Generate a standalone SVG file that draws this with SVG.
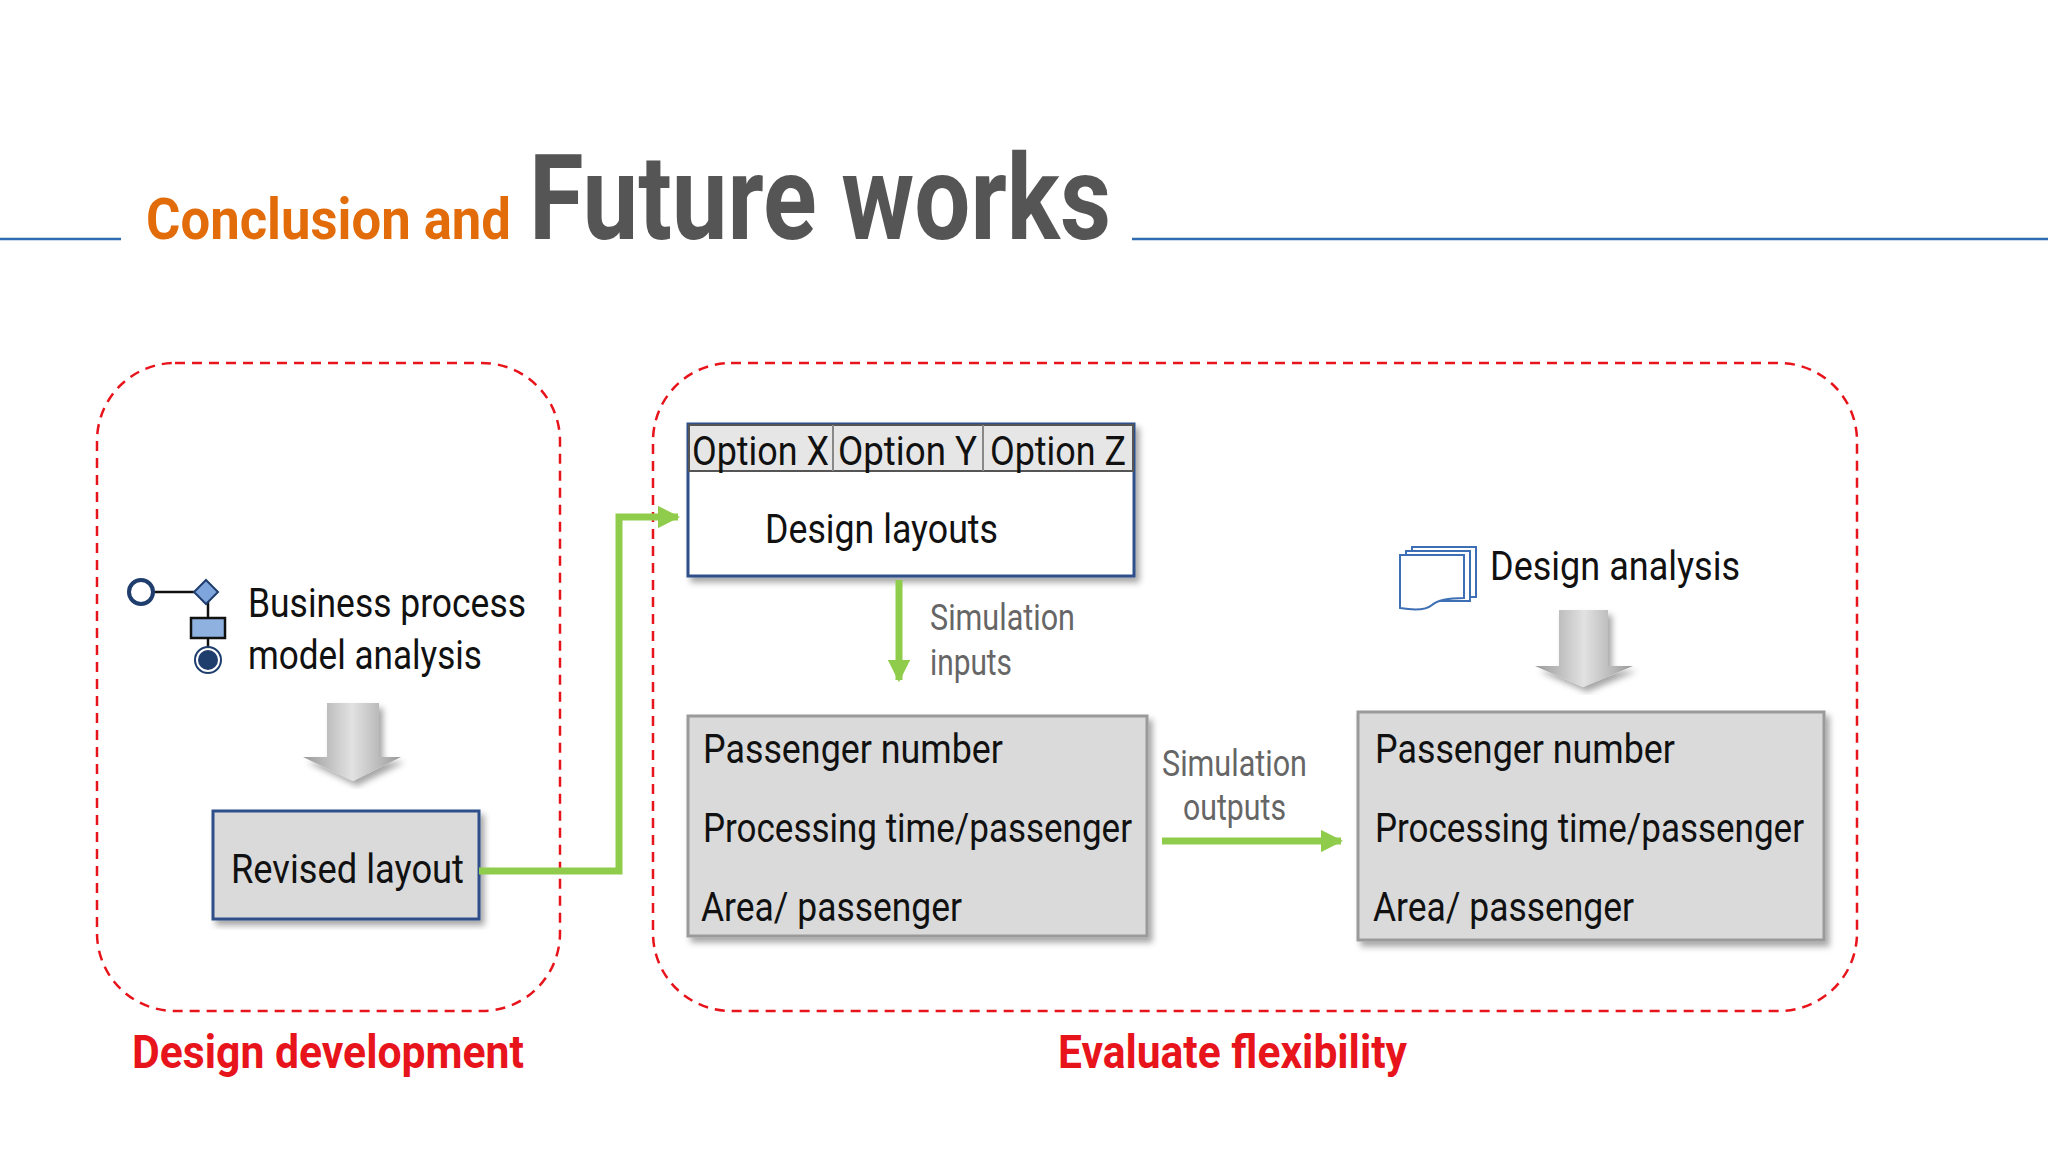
<svg xmlns="http://www.w3.org/2000/svg" width="2048" height="1159" viewBox="0 0 2048 1159">
<defs>
<style>
text{font-family:Roboto,"Liberation Sans",sans-serif;}
.t{font-size:40px;fill:#111;}
.s{font-size:36px;fill:#666;}
.red{font-size:46px;font-weight:bold;fill:#e8141c;}
.dash{fill:none;stroke:#e8141c;stroke-width:2.5;stroke-dasharray:10 7;}
.box{fill:#dadadb;stroke:#9a9a9a;stroke-width:3;}
.g{stroke:#8fcc4b;stroke-width:7;fill:none;}
</style>
<linearGradient id="ga" x1="0" y1="0" x2="1" y2="0">
<stop offset="0" stop-color="#9a9a9a"/><stop offset="0.5" stop-color="#e2e2e2"/><stop offset="1" stop-color="#9a9a9a"/>
</linearGradient>
<marker id="ah" viewBox="0 0 10 10" refX="9" refY="5" markerWidth="3.2" markerHeight="3.2" orient="auto"><path d="M0,0L10,5L0,10z" fill="#8fcc4b"/></marker>
<filter id="sh"><feDropShadow dx="4" dy="5" stdDeviation="3" flood-opacity="0.35"/></filter>
</defs>
<rect width="2048" height="1159" fill="#fff"/>
<g id="title">
<line x1="0" y1="239" x2="121" y2="239" stroke="#2e6bb0" stroke-width="2.5"/>
<line x1="1132" y1="239" x2="2048" y2="239" stroke="#2e6bb0" stroke-width="2.5"/>
<text x="146" y="239" font-size="58" font-weight="bold" fill="#e36c0a" textLength="365" lengthAdjust="spacingAndGlyphs">Conclusion and</text>
<text x="529" y="239" font-size="118" font-weight="bold" fill="#555" textLength="582" lengthAdjust="spacingAndGlyphs">Future works</text>
</g>
<g id="groups">
<rect class="dash" x="97" y="363" width="463" height="648" rx="78"/>
<rect class="dash" x="653" y="363" width="1204" height="648" rx="78"/>
<text class="red" x="132" y="1068" textLength="392" lengthAdjust="spacingAndGlyphs">Design development</text>
<text class="red" x="1058" y="1068" textLength="349" lengthAdjust="spacingAndGlyphs">Evaluate flexibility</text>
</g>
<g id="bpm">
<line x1="154" y1="592" x2="196" y2="592" stroke="#111" stroke-width="2.5"/>
<line x1="208" y1="600" x2="208" y2="652" stroke="#111" stroke-width="2.5"/>
<circle cx="141" cy="592" r="12" fill="#fff" stroke="#1f3e6e" stroke-width="4"/>
<path d="M206,580L218,592L206,604L194,592z" fill="#7fa6dc" stroke="#1f3e6e" stroke-width="2"/>
<rect x="191" y="618" width="34" height="20" fill="#8fb1e0" stroke="#111" stroke-width="2.5"/>
<circle cx="208" cy="660" r="11" fill="#1f3e6e" stroke="#fff" stroke-width="2"/>
<circle cx="208" cy="660" r="13" fill="none" stroke="#1f3e6e" stroke-width="2"/>
<text class="t" x="248" y="617" textLength="278" lengthAdjust="spacingAndGlyphs">Business process</text>
<text class="t" x="248" y="669" textLength="234" lengthAdjust="spacingAndGlyphs">model analysis</text>
</g>
<g id="arrow1"><path d="M327,703H379V757H401L353,781L303,757H327z" fill="url(#ga)" filter="url(#sh)"/></g>
<g id="revised">
<rect x="213" y="811" width="266" height="108" fill="#dadadb" stroke="#2f4f8a" stroke-width="3" filter="url(#sh)"/>
<text class="t" x="231" y="883" textLength="233" lengthAdjust="spacingAndGlyphs">Revised layout</text>
</g>
<g id="layouts">
<rect x="688" y="424" width="446" height="152" fill="#fff" stroke="#2f4f8a" stroke-width="3" filter="url(#sh)"/>
<rect x="689" y="425" width="444" height="46" fill="#e6e6e6" stroke="#555" stroke-width="2"/>
<line x1="833" y1="425" x2="833" y2="471" stroke="#888" stroke-width="2"/>
<line x1="983" y1="425" x2="983" y2="471" stroke="#888" stroke-width="2"/>
<text class="t" x="692" y="465" textLength="137" lengthAdjust="spacingAndGlyphs">Option X</text>
<text class="t" x="838" y="465" textLength="139" lengthAdjust="spacingAndGlyphs">Option Y</text>
<text class="t" x="990" y="465" textLength="136" lengthAdjust="spacingAndGlyphs">Option Z</text>
<text class="t" x="765" y="543" textLength="233" lengthAdjust="spacingAndGlyphs">Design layouts</text>
</g>
<g id="data1">
<rect class="box" x="688" y="716" width="459" height="220" filter="url(#sh)"/>
<text class="t" x="703" y="763" textLength="300" lengthAdjust="spacingAndGlyphs">Passenger number</text>
<text class="t" x="703" y="842" textLength="429" lengthAdjust="spacingAndGlyphs">Processing time/passenger</text>
<text class="t" x="701" y="921" textLength="261" lengthAdjust="spacingAndGlyphs">Area/ passenger</text>
</g>
<g id="data2">
<rect class="box" x="1358" y="712" width="466" height="228" filter="url(#sh)"/>
<text class="t" x="1375" y="763" textLength="300" lengthAdjust="spacingAndGlyphs">Passenger number</text>
<text class="t" x="1375" y="842" textLength="429" lengthAdjust="spacingAndGlyphs">Processing time/passenger</text>
<text class="t" x="1373" y="921" textLength="261" lengthAdjust="spacingAndGlyphs">Area/ passenger</text>
</g>
<g id="analysis">
<rect x="1412" y="547" width="64" height="50" fill="#fff" stroke="#3d6fb5" stroke-width="2"/>
<rect x="1406" y="551" width="64" height="50" fill="#fff" stroke="#3d6fb5" stroke-width="2"/>
<path d="M1400,555H1464V598Q1440,598 1432,605T1400,608z" fill="#fff" stroke="#3d6fb5" stroke-width="2"/>
<text class="t" x="1490" y="580" textLength="250" lengthAdjust="spacingAndGlyphs">Design analysis</text>
</g>
<g id="arrow2"><path d="M1559,610H1608V666H1633L1583,687L1535,666H1559z" fill="url(#ga)" filter="url(#sh)"/></g>
<g id="connectors">
<path class="g" d="M479,871H619V517H678" marker-end="url(#ah)"/>
<path class="g" d="M899,580V680" marker-end="url(#ah)"/>
<path class="g" d="M1162,841H1341" marker-end="url(#ah)"/>
<text class="s" x="930" y="630" textLength="145" lengthAdjust="spacingAndGlyphs">Simulation</text>
<text class="s" x="930" y="675" textLength="82" lengthAdjust="spacingAndGlyphs">inputs</text>
<text class="s" x="1162" y="776" textLength="145" lengthAdjust="spacingAndGlyphs">Simulation</text>
<text class="s" x="1183" y="820" textLength="103" lengthAdjust="spacingAndGlyphs">outputs</text>
</g>
</svg>
